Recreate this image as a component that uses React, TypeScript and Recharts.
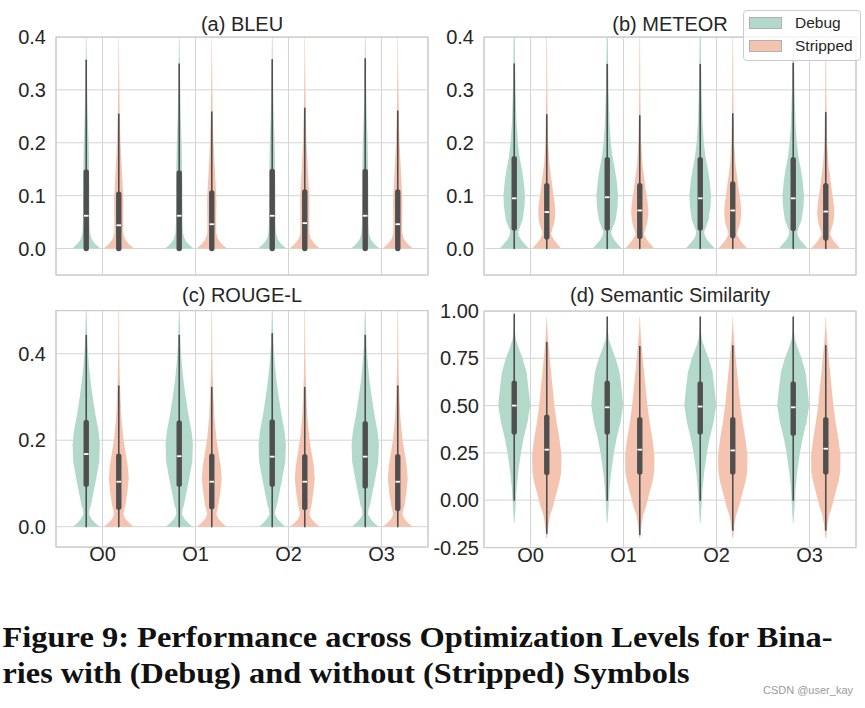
import React from 'react';
import { ComposedChart, Scatter, XAxis, YAxis, CartesianGrid, ReferenceArea } from 'recharts';

const levels = ['O0', 'O1', 'O2', 'O3'];
const variants = ['Debug', 'Stripped'];

// violin outlines: [score, half width in category units]
const bleuDebugShape = [
  [0, 0.154], [0.005, 0.12], [0.01, 0.09], [0.015, 0.068], [0.02, 0.055], [0.03, 0.04],
  [0.05, 0.035], [0.1, 0.034], [0.15, 0.031], [0.2, 0.026], [0.25, 0.016], [0.3, 0.01],
  [0.35, 0.006], [0.4, 0.003],
];
const bleuStrippedShape = [
  [0, 0.165], [0.005, 0.13], [0.01, 0.1], [0.015, 0.078], [0.02, 0.062], [0.03, 0.048],
  [0.05, 0.047], [0.08, 0.05], [0.1, 0.048], [0.15, 0.033], [0.2, 0.019], [0.25, 0.011],
  [0.3, 0.007], [0.35, 0.004], [0.4, 0.002],
];
const meteorDebugShape = [
  [0, 0.156], [0.008, 0.115], [0.016, 0.075], [0.025, 0.048], [0.032, 0.042], [0.042, 0.065],
  [0.054, 0.09], [0.079, 0.11], [0.1, 0.116], [0.13, 0.1], [0.148, 0.084], [0.173, 0.057],
  [0.2, 0.039], [0.236, 0.025], [0.3, 0.014], [0.35, 0.009], [0.4, 0.006],
];
const meteorStrippedShape = [
  [0, 0.156], [0.008, 0.115], [0.016, 0.078], [0.027, 0.045], [0.037, 0.06], [0.047, 0.079],
  [0.066, 0.093], [0.085, 0.086], [0.11, 0.065], [0.135, 0.047], [0.16, 0.029], [0.2, 0.015],
  [0.25, 0.009], [0.3, 0.006], [0.4, 0.003],
];
const rougeDebugShape = [
  [0, 0.143], [0.008, 0.1], [0.018, 0.057], [0.029, 0.03], [0.04, 0.035], [0.049, 0.05],
  [0.08, 0.079], [0.11, 0.107], [0.15, 0.14], [0.19, 0.147], [0.22, 0.133], [0.258, 0.1],
  [0.297, 0.072], [0.336, 0.047], [0.374, 0.029], [0.42, 0.014], [0.46, 0.008], [0.5, 0.004],
];
const rougeStrippedShape = [
  [0, 0.161], [0.008, 0.115], [0.018, 0.072], [0.029, 0.05], [0.04, 0.06], [0.049, 0.072],
  [0.08, 0.093], [0.11, 0.107], [0.14, 0.097], [0.173, 0.072], [0.204, 0.05], [0.25, 0.029],
  [0.3, 0.018], [0.35, 0.01], [0.4, 0.006], [0.5, 0.003],
];
const semDebugShape = [
  [-0.12, 0.003], [-0.06, 0.011], [0, 0.018], [0.061, 0.025], [0.149, 0.043], [0.25, 0.072],
  [0.325, 0.1], [0.412, 0.143], [0.5, 0.172], [0.587, 0.154], [0.675, 0.133], [0.75, 0.09],
  [0.797, 0.054], [0.85, 0.018], [0.9, 0.006], [0.95, 0.002],
];
const semStrippedShape = [
  [-0.2, 0.005], [-0.13, 0.018], [-0.079, 0.036], [-0.026, 0.072], [0.044, 0.107], [0.096, 0.136],
  [0.149, 0.155], [0.238, 0.158], [0.325, 0.136], [0.41, 0.107], [0.5, 0.082], [0.64, 0.054],
  [0.75, 0.032], [0.85, 0.014], [0.92, 0.006], [0.97, 0.002],
];

// inner box per level: [low whisker, q1, median, q3, high whisker]
const bleuDebugBox = [
  [0, 0, 0.062, 0.145, 0.356],
  [0, 0, 0.062, 0.143, 0.349],
  [0, 0, 0.062, 0.146, 0.357],
  [0, 0, 0.062, 0.146, 0.359],
];
const bleuStrippedBox = [
  [0, 0, 0.044, 0.103, 0.254],
  [0, 0, 0.046, 0.105, 0.258],
  [0, 0, 0.048, 0.107, 0.265],
  [0, 0, 0.046, 0.107, 0.26],
];
const meteorDebugBox = [
  [0, 0.039, 0.095, 0.17, 0.349],
  [0, 0.039, 0.097, 0.168, 0.348],
  [0, 0.039, 0.095, 0.168, 0.348],
  [0, 0.038, 0.095, 0.168, 0.35],
];
const meteorStrippedBox = [
  [0, 0.022, 0.069, 0.119, 0.253],
  [0, 0.023, 0.072, 0.119, 0.251],
  [0, 0.024, 0.072, 0.122, 0.255],
  [0, 0.02, 0.07, 0.119, 0.257],
];
const rougeDebugBox = [
  [0, 0.098, 0.168, 0.241, 0.442],
  [0, 0.098, 0.163, 0.24, 0.442],
  [0, 0.098, 0.162, 0.242, 0.446],
  [0, 0.094, 0.162, 0.238, 0.442],
];
const rougeStrippedBox = [
  [0, 0.045, 0.104, 0.163, 0.325],
  [0, 0.046, 0.104, 0.163, 0.322],
  [0, 0.044, 0.104, 0.162, 0.322],
  [0, 0.042, 0.104, 0.162, 0.325],
];
const semDebugBox = [
  [0, 0.36, 0.5, 0.619, 0.982],
  [0, 0.36, 0.491, 0.618, 0.968],
  [0, 0.36, 0.495, 0.614, 0.968],
  [0, 0.354, 0.491, 0.614, 0.968],
];
const semStrippedBox = [
  [-0.175, 0.146, 0.267, 0.439, 0.833],
  [-0.181, 0.149, 0.267, 0.426, 0.812],
  [-0.158, 0.149, 0.263, 0.425, 0.816],
  [-0.158, 0.149, 0.272, 0.425, 0.816],
];

const bleuTicks = [0, 0.1, 0.2, 0.3, 0.4];
const meteorTicks = [0, 0.1, 0.2, 0.3, 0.4];
const rougeTicks = [0, 0.2, 0.4];
const semTicks = [-0.25, 0, 0.25, 0.5, 0.75, 1];

const fills = ['#b2d9ca', '#f4c4b0'];
const boxColor = '#4f4f4f';
const gridColor = '#d4d4d4';
const frameColor = '#cccccc';
const textColor = '#262626';
const sans = 'Liberation Sans, Arial, sans-serif';
const serif = 'Liberation Serif, Times New Roman, serif';
const dodge = 0.175;

function outline(shape: number[][], center: number) {
  const right = shape.map(([y, w]) => ({ x: center + w, y }));
  const left = [...shape].reverse().map(([y, w]) => ({ x: center - w, y }));
  return [...right, ...left];
}

const noDot = () => <g />;

const polygon = (fill: string) => (props: any) => {
  const pts = (props.points || []).filter((p: any) => p.x != null && p.y != null);
  if (!pts.length) return <g />;
  const d = pts.map((p: any, i: number) => `${i ? 'L' : 'M'}${p.x},${p.y}`).join('') + 'Z';
  return <path d={d} fill={fill} stroke="none" />;
};

const segment = (width: number) => (props: any) => {
  const pts = props.points || [];
  if (pts.length < 2) return <g />;
  return (
    <line x1={pts[0].x} y1={pts[0].y} x2={pts[1].x} y2={pts[1].y}
      stroke={boxColor} strokeWidth={width} strokeLinecap="round" />
  );
};

const medianMark = (props: any) => (
  <rect x={props.cx - 2.3} y={props.cy - 0.9} width={4.6} height={1.8} fill="#ffffff" />
);

const panels = [
  {
    title: '(a) BLEU', titleX: 242, titleY: 30.5,
    shapes: [bleuDebugShape, bleuStrippedShape], boxes: [bleuDebugBox, bleuStrippedBox],
    ticks: bleuTicks, domain: [-0.05, 0.4], digits: 1, showLevels: false,
    left: 0, top: 0, width: 440, height: 300, margin: { top: 37, right: 12, bottom: 0, left: 10 },
    xAxisHeight: 25, yTickMargin: 10,
  },
  {
    title: '(b) METEOR', titleX: 670, titleY: 30.5,
    shapes: [meteorDebugShape, meteorStrippedShape], boxes: [meteorDebugBox, meteorStrippedBox],
    ticks: meteorTicks, domain: [-0.05, 0.4], digits: 1, showLevels: false,
    left: 425, top: 0, width: 440, height: 300, margin: { top: 37, right: 9, bottom: 0, left: 13 },
    xAxisHeight: 25, yTickMargin: 10,
  },
  {
    title: '(c) ROUGE-L', titleX: 242, titleY: 302,
    shapes: [rougeDebugShape, rougeStrippedShape], boxes: [rougeDebugBox, rougeStrippedBox],
    ticks: rougeTicks, domain: [-0.047, 0.5], digits: 1, showLevels: true,
    left: 0, top: 290, width: 440, height: 290, margin: { top: 20.5, right: 12, bottom: 0, left: 10 },
    xAxisHeight: 33, yTickMargin: 10,
  },
  {
    title: '(d) Semantic Similarity', titleX: 670, titleY: 302,
    shapes: [semDebugShape, semStrippedShape], boxes: [semDebugBox, semStrippedBox],
    ticks: semTicks, domain: [-0.25, 1.0], digits: 2, showLevels: true,
    left: 425, top: 290, width: 440, height: 290, margin: { top: 21, right: 9, bottom: 0, left: 13 },
    xAxisHeight: 32.5, yTickMargin: 5,
  },
];

function Panel({ cfg }: { cfg: any }) {
  const violins: any[] = [];
  const whiskers: any[] = [];
  const boxes: any[] = [];
  const medians: any[] = [];
  cfg.shapes.forEach((shape: number[][], v: number) => {
    levels.forEach((_, i) => {
      const c = i + (v === 0 ? -dodge : dodge);
      const [lo, q1, med, q3, hi] = cfg.boxes[v][i];
      violins.push(
        <Scatter key={`v${v}${i}`} data={outline(shape, c)} shape={noDot} line={polygon(fills[v])}
          lineType="joint" legendType="none" isAnimationActive={false} />
      );
      whiskers.push(
        <Scatter key={`w${v}${i}`} data={[{ x: c, y: lo }, { x: c, y: hi }]} shape={noDot}
          line={segment(1.6)} lineType="joint" legendType="none" isAnimationActive={false} />
      );
      boxes.push(
        <Scatter key={`b${v}${i}`} data={[{ x: c, y: q1 }, { x: c, y: q3 }]} shape={noDot}
          line={segment(5.4)} lineType="joint" legendType="none" isAnimationActive={false} />
      );
      medians.push(
        <Scatter key={`m${v}${i}`} data={[{ x: c, y: med }]} shape={medianMark}
          legendType="none" isAnimationActive={false} />
      );
    });
  });
  const tickStyle = { fill: textColor, fontSize: 20, fontFamily: sans };
  return (
    <div style={{ position: 'absolute', left: cfg.left, top: cfg.top }}>
      <ComposedChart width={cfg.width} height={cfg.height} margin={cfg.margin}>
        <CartesianGrid stroke={gridColor} strokeWidth={1} />
        <XAxis type="number" dataKey="x" domain={[-0.5, 3.5]} ticks={[0, 1, 2, 3]} allowDataOverflow
          interval={0} axisLine={false} tickLine={false} tickSize={0} tickMargin={0}
          height={cfg.xAxisHeight} tick={tickStyle}
          tickFormatter={(v: number) => (cfg.showLevels ? levels[v] : '')} />
        <YAxis type="number" dataKey="y" domain={cfg.domain} ticks={cfg.ticks} allowDataOverflow
          interval={0} axisLine={false} tickLine={false} tickSize={0} tickMargin={cfg.yTickMargin}
          width={46} tick={tickStyle} tickFormatter={(v: number) => v.toFixed(cfg.digits)} />
        {violins}
        {whiskers}
        {boxes}
        {medians}
        <ReferenceArea x1={-0.5} x2={3.5} y1={cfg.domain[0]} y2={cfg.domain[1]} fill="none"
          fillOpacity={0} stroke={frameColor} strokeWidth={1.25} />
      </ComposedChart>
    </div>
  );
}

export default function App() {
  return (
    <div style={{ position: 'relative', width: 865, height: 708, background: '#fff', overflow: 'hidden' }}>
      <style>{'body{margin:0}'}</style>
      {panels.map((cfg) => (
        <Panel key={cfg.title} cfg={cfg} />
      ))}
      <div style={{
        position: 'absolute', left: 743, top: 10, width: 118, height: 51, boxSizing: 'border-box',
        border: '1px solid #cccccc', borderRadius: 4, background: 'rgba(255,255,255,0.8)',
      }}>
        {variants.map((name, i) => (
          <div key={name} style={{ position: 'absolute', left: 5, top: 6 + i * 23, display: 'flex', alignItems: 'center' }}>
            <div style={{ width: 33, height: 12, background: fills[i], border: '1px solid #b0b0b0', boxSizing: 'border-box' }} />
            <span style={{ marginLeft: 13, fontSize: 15.5, fontFamily: sans, color: textColor, lineHeight: '12px' }}>{name}</span>
          </div>
        ))}
      </div>
      <svg width={865} height={708} style={{ position: 'absolute', left: 0, top: 0, pointerEvents: 'none' }}>
        {panels.map((cfg) => (
          <text key={cfg.title} x={cfg.titleX} y={cfg.titleY} textAnchor="middle" fontSize={20}
            style={{ fontFamily: sans }} fill={textColor}>{cfg.title}</text>
        ))}
        <text x={2.5} y={647} style={{ fontFamily: serif, fontWeight: 700 }}
          fontSize={28.5} fill="#111" textLength={830} lengthAdjust="spacingAndGlyphs">
          Figure 9: Performance across Optimization Levels for Bina-
        </text>
        <text x={2.5} y={683} style={{ fontFamily: serif, fontWeight: 700 }}
          fontSize={28.5} fill="#111" textLength={687} lengthAdjust="spacingAndGlyphs">
          ries with (Debug) and without (Stripped) Symbols
        </text>
        <text x={853} y={694} textAnchor="end" style={{ fontFamily: sans }} fontSize={11}
          fill="#9a9a9a">CSDN @user_kay</text>
      </svg>
    </div>
  );
}
